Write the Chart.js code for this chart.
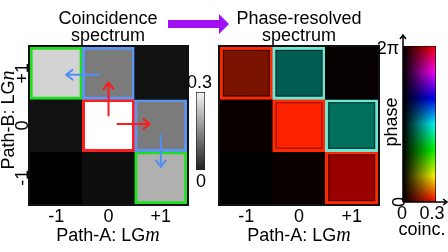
<!DOCTYPE html>
<html>
<head>
<meta charset="utf-8">
<script src="https://cdn.jsdelivr.net/npm/chart.js@4.4.1/dist/chart.umd.min.js"></script>
<style>
  html, body { margin: 0; padding: 0; background: #fff; }
  #fig { position: relative; width: 448px; height: 252px; overflow: hidden; background: #fff;
         font-family: "Liberation Sans", Arial, sans-serif; color: #000; }
  #fig canvas { position: absolute; left: 0; top: 0; }
  .lbl { position: absolute; font-size: 18px; line-height: 18px; white-space: nowrap;
         transform: translate(-50%, -50%); }
  .rot { transform: translate(-50%, -50%) rotate(-90deg); }
  .lbl i { font-family: "Liberation Serif", serif; font-size: 20px; }
  svg { position: absolute; left: 0; top: 0; }
</style>
</head>
<body>
<div id="fig">
  <canvas id="heatA" width="448" height="252"></canvas>
  <canvas id="cbarA" width="448" height="252"></canvas>
  <canvas id="heatB" width="448" height="252"></canvas>
  <canvas id="cbarB" width="448" height="252"></canvas>

  <svg width="448" height="252">
    <polygon points="168,20 219,20 219,14 229,24 219,34 219,28 168,28" fill="#a010f0"/>
  </svg>

  <div class="lbl" style="left:108px;top:17.5px">Coincidence</div>
  <div class="lbl" style="left:108px;top:35px">spectrum</div>
  <div class="lbl" style="left:299px;top:17.5px">Phase-resolved</div>
  <div class="lbl" style="left:299px;top:35px">spectrum</div>

  <div class="lbl rot" style="left:7px;top:120px">Path-B: LG<i>n</i></div>
  <div class="lbl" style="left:108px;top:234px">Path-A: LG<i>m</i></div>
  <div class="lbl" style="left:299px;top:234px">Path-A: LG<i>m</i></div>

  <div class="lbl" style="left:199.5px;top:82px">0.3</div>
  <div class="lbl" style="left:201px;top:181px">0</div>

  <div class="lbl" style="left:388px;top:48px">2π</div>
  <div class="lbl rot" style="left:391px;top:122px">phase</div>
  <div class="lbl rot" style="left:399px;top:202px">0</div>
  <div class="lbl" style="left:402px;top:213px">0</div>
  <div class="lbl" style="left:432px;top:213px">0.3</div>
  <div class="lbl" style="left:422px;top:228.5px">coinc.</div>
</div>

<script>
// Coincidence spectrum (left) and phase-resolved spectrum (right), 3x3 LG modes.
// Rows run top -> bottom (LGn = +1, 0, -1), columns left -> right (LGm = -1, 0, +1).

const FONT = '"Liberation Sans", Arial, sans-serif';

const lgM = ['-1', '0', '+1'];
const lgN = [1, 0, -1];

// normalised coincidences (0 .. 0.3)
const coinc = [
  [0.248, 0.145, 0.020],
  [0.020, 0.300, 0.145],
  [0.000, 0.016, 0.207]
];
// highlighted cells on the left map
const coincMark = [
  ['g', 'b', null],
  [null, 'r', 'b'],
  [null, null, 'g']
];

// phase-resolved map: amplitude (0 .. 0.3) and phase (units of pi)
const prAmp = [
  [0.143, 0.110, 0.007],
  [0.012, 0.300, 0.130],
  [0.000, 0.012, 0.180]
];
const prPhase = [
  [0.05, 0.97, 0.00],
  [0.00, 0.045, 0.945],
  [0.00, 0.00, 0.00]
];
const prMark = [
  ['r', 'c', null],
  [null, 'r', 'c'],
  [null, null, 'r']
];

// arrows on the left map, [m0, n0, m1, n1, kind] in LG units
const arrows = [
  [-0.19, 0.97, -0.81, 0.97, 'b'],
  [0.00, 0.19, 0.00, 0.82, 'r'],
  [0.17, 0.03, 0.79, 0.03, 'r'],
  [1.00, -0.19, 1.00, -0.79, 'b']
];

const coincRange = [0, 0.3];
const phaseRange = [0, 2 * Math.PI];

// ── Colours ────────────────────────────────────────────────────────────────
const markColorsA = { g: '#1ee01e', b: '#5b96f5', r: '#ff1e1e' };
const markColorsB = { r: '#ff2a00', c: '#72e6d6' };
const arrowColors = { b: '#4f8ff7', r: '#ff1a1a' };

function hsv(h, s, v) {
  const f = n => {
    const k = (n + h / 60) % 6;
    return v - v * s * Math.max(0, Math.min(k, 4 - k, 1));
  };
  return `rgb(${Math.round(f(5) * 255)},${Math.round(f(3) * 255)},${Math.round(f(1) * 255)})`;
}
const grey = v => {
  const g = Math.round(255 * v / coincRange[1]);
  return `rgb(${g},${g},${g})`;
};

// ── Plugins ────────────────────────────────────────────────────────────────
const framePlugin = {
  id: 'frame',
  afterDatasetsDraw(chart) {
    const { ctx, chartArea: a } = chart;
    ctx.save();
    ctx.strokeStyle = '#111';
    ctx.lineWidth = 2;
    ctx.strokeRect(a.left - 1, a.top - 1, a.width + 2, a.height + 2);
    ctx.restore();
  }
};

const arrowPlugin = {
  id: 'arrows',
  afterDatasetsDraw(chart) {
    const { ctx, scales: { x, y } } = chart;
    ctx.save();
    ctx.lineWidth = 2;
    ctx.lineCap = 'round';
    ctx.lineJoin = 'round';
    arrows.forEach(([m0, n0, m1, n1, k]) => {
      const x0 = x.getPixelForValue(m0 + 1), y0 = y.getPixelForValue(n0);
      const x1 = x.getPixelForValue(m1 + 1), y1 = y.getPixelForValue(n1);
      const a = Math.atan2(y1 - y0, x1 - x0);
      const L = 8;
      ctx.strokeStyle = arrowColors[k];
      ctx.beginPath();
      ctx.moveTo(x0, y0);
      ctx.lineTo(x1, y1);
      ctx.moveTo(x1 - L * Math.cos(a - 0.65), y1 - L * Math.sin(a - 0.65));
      ctx.lineTo(x1, y1);
      ctx.lineTo(x1 - L * Math.cos(a + 0.65), y1 - L * Math.sin(a + 0.65));
      ctx.stroke();
    });
    ctx.restore();
  }
};

// thin dark line just inside the coloured borders of the right map
const innerLinePlugin = {
  id: 'innerLine',
  afterDatasetsDraw(chart) {
    const ctx = chart.ctx;
    ctx.save();
    ctx.lineWidth = 1;
    ctx.strokeStyle = 'rgba(0,0,0,0.5)';
    chart.data.datasets.forEach((ds, r) => {
      chart.getDatasetMeta(r).data.forEach((bar, c) => {
        if (!prMark[r][c]) return;
        const { x, y, base, width } = bar.getProps(['x', 'y', 'base', 'width'], true);
        const top = Math.min(y, base), bottom = Math.max(y, base);
        const inset = 3.5;
        ctx.strokeRect(x - width / 2 + inset, top + inset, width - 2 * inset, bottom - top - 2 * inset);
      });
    });
    ctx.restore();
  }
};

// ── Heat map builder ───────────────────────────────────────────────────────
function heatChart(id, area, fills, marks, markColors, showY, plugins) {
  const yW = showY ? area.left : 0;
  const xH = 252 - area.bottom;

  const datasets = lgN.map((n, r) => ({
    data: lgM.map(() => [n - 0.5, n + 0.5]),
    backgroundColor: fills[r],
    borderColor: marks[r].map(k => k ? markColors[k] : 'rgba(0,0,0,0)'),
    borderWidth: marks[r].map(k => k ? 3 : 0),
    borderSkipped: false,
    grouped: false,
    barPercentage: 1,
    categoryPercentage: 1
  }));

  return new Chart(document.getElementById(id), {
    type: 'bar',
    data: { labels: lgM, datasets },
    options: {
      responsive: false,
      animation: false,
      events: [],
      layout: {
        padding: { left: area.left - yW, top: area.top, right: 448 - area.right, bottom: 0 }
      },
      plugins: { legend: { display: false }, tooltip: { enabled: false } },
      scales: {
        x: {
          type: 'category',
          offset: true,
          grid: { display: false, drawTicks: false },
          border: { display: false },
          ticks: { color: '#000', font: { family: FONT, size: 18 }, padding: 2, maxRotation: 0 },
          afterFit: s => { s.height = xH; }
        },
        y: {
          type: 'linear',
          display: showY,
          min: -1.5,
          max: 1.5,
          grid: { display: false, drawTicks: false },
          border: { display: false },
          afterBuildTicks: s => { s.ticks = lgN.map(v => ({ value: v })); },
          ticks: {
            color: '#000',
            font: { family: FONT, size: 18 },
            minRotation: 90,
            maxRotation: 90,
            crossAlign: 'center',
            padding: -3,
            callback: v => v > 0 ? '+' + v : String(v)
          },
          afterFit: s => { s.width = yW; }
        }
      }
    },
    plugins
  });
}

const fillA = coinc.map(row => row.map(grey));
const fillB = prAmp.map((row, r) =>
  row.map((a, c) => hsv(prPhase[r][c] * 180, 1, a / coincRange[1])));

heatChart('heatA', { left: 30, top: 47, right: 187, bottom: 204 },
  fillA, coincMark, markColorsA, true, [framePlugin, arrowPlugin]);

heatChart('heatB', { left: 220, top: 47, right: 378, bottom: 204 },
  fillB, prMark, markColorsB, false, [framePlugin, innerLinePlugin]);

// ── Grey colour bar ────────────────────────────────────────────────────────
new Chart(document.getElementById('cbarA'), {
  type: 'bar',
  data: {
    labels: ['coinc'],
    datasets: [{
      data: [coincRange],
      backgroundColor: c => {
        const { chart } = c;
        if (!chart.chartArea) return '#888';
        const y = chart.scales.y;
        const g = chart.ctx.createLinearGradient(0, y.getPixelForValue(coincRange[0]), 0, y.getPixelForValue(coincRange[1]));
        g.addColorStop(0, '#202020');
        g.addColorStop(1, '#f4f4f4');
        return g;
      },
      borderColor: '#222',
      borderWidth: 1,
      borderSkipped: false,
      barPercentage: 1,
      categoryPercentage: 1
    }]
  },
  options: {
    responsive: false,
    animation: false,
    events: [],
    layout: { padding: { left: 196, right: 243, top: 92, bottom: 82 } },
    plugins: { legend: { display: false }, tooltip: { enabled: false } },
    scales: {
      x: { display: false },
      y: { display: false, min: coincRange[0], max: coincRange[1] }
    }
  }
});

// ── Phase / coincidence 2-D colour bar ─────────────────────────────────────
const phaseMapPlugin = {
  id: 'phaseMap',
  beforeDatasetsDraw(chart) {
    const { ctx, scales: { x, y } } = chart;
    const x0 = x.getPixelForValue(coincRange[0]), x1 = x.getPixelForValue(coincRange[1]);
    const y0 = y.getPixelForValue(phaseRange[0]), y1 = y.getPixelForValue(phaseRange[1]);
    ctx.save();
    const hue = ctx.createLinearGradient(0, y0, 0, y1);
    for (let h = 0; h <= 360; h += 30) hue.addColorStop(h / 360, hsv(h, 1, 1));
    ctx.fillStyle = hue;
    ctx.fillRect(x0, y1, x1 - x0, y0 - y1);
    const dark = ctx.createLinearGradient(x0, 0, x1, 0);
    dark.addColorStop(0, 'rgba(0,0,0,1)');
    dark.addColorStop(1, 'rgba(0,0,0,0)');
    ctx.fillStyle = dark;
    ctx.fillRect(x0, y1, x1 - x0, y0 - y1);
    ctx.strokeStyle = 'rgba(40,0,0,0.7)';
    ctx.lineWidth = 1;
    ctx.strokeRect(x0 + 0.5, y1 + 0.5, x1 - x0 - 1, y0 - y1 - 1);

    // axis arrows
    ctx.strokeStyle = '#000';
    ctx.lineWidth = 1.5;
    ctx.beginPath();
    ctx.moveTo(x0, y0); ctx.lineTo(x0, y1 - 11);
    ctx.moveTo(x0 - 3, y1 - 7); ctx.lineTo(x0, y1 - 11); ctx.lineTo(x0 + 3, y1 - 7);
    ctx.moveTo(x0, y0); ctx.lineTo(x1 + 11, y0);
    ctx.moveTo(x1 + 7, y0 - 3); ctx.lineTo(x1 + 11, y0); ctx.lineTo(x1 + 7, y0 + 3);
    ctx.stroke();
    ctx.restore();
  }
};

new Chart(document.getElementById('cbarB'), {
  type: 'scatter',
  data: { datasets: [{ data: [] }] },
  options: {
    responsive: false,
    animation: false,
    events: [],
    layout: { padding: { left: 403, right: 12, top: 46, bottom: 50 } },
    plugins: { legend: { display: false }, tooltip: { enabled: false } },
    scales: {
      x: { display: false, min: coincRange[0], max: coincRange[1] },
      y: { display: false, min: phaseRange[0], max: phaseRange[1] }
    }
  },
  plugins: [phaseMapPlugin]
});
</script>
</body>
</html>
